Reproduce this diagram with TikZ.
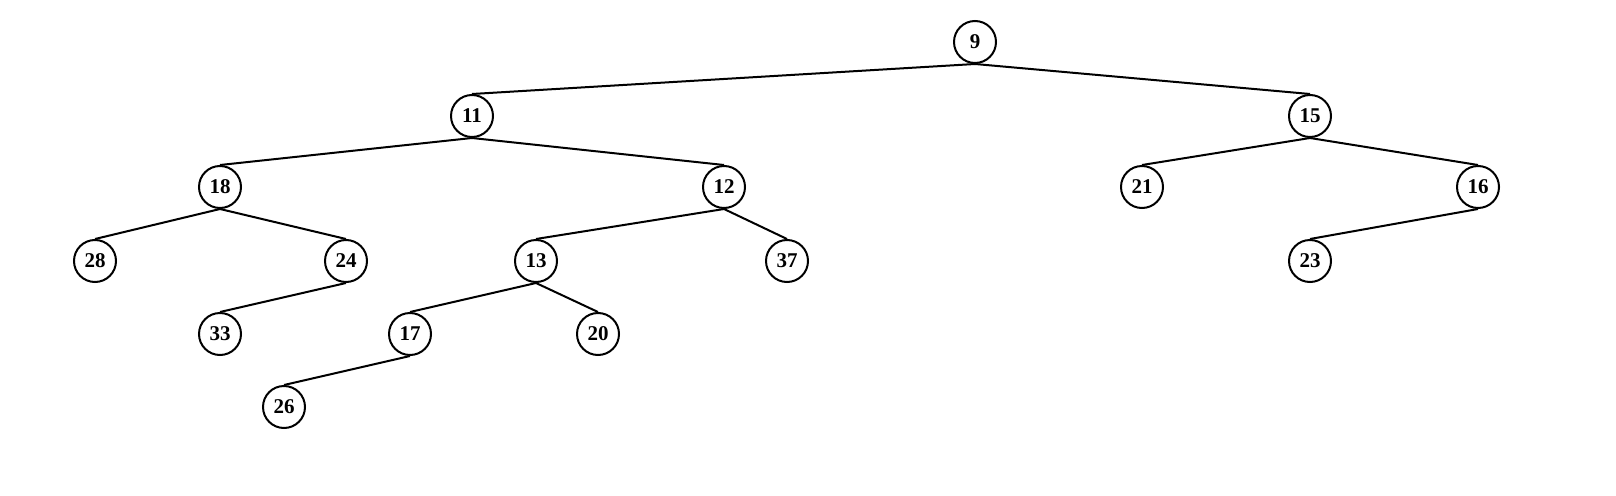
\documentclass[tikz,border=0pt]{standalone}
\usepackage{fontspec}
\setmainfont{Liberation Serif}
\begin{document}
\begin{tikzpicture}[x=1pt,y=-1pt,
  tn/.style={circle,draw,line width=2pt,minimum size=42pt,inner sep=0pt,font=\bfseries\fontsize{21}{23}\selectfont},
  ed/.style={line width=2pt}]
\useasboundingbox (0,0) rectangle (1616,495);
\node[tn] (n9) at (975,42) {9};
\node[tn] (n11) at (472,116) {11};
\node[tn] (n15) at (1310,116) {15};
\node[tn] (n18) at (220,187) {18};
\node[tn] (n12) at (724,187) {12};
\node[tn] (n21) at (1142,187) {21};
\node[tn] (n16) at (1478,187) {16};
\node[tn] (n28) at (95,261) {28};
\node[tn] (n24) at (346,261) {24};
\node[tn] (n13) at (536,261) {13};
\node[tn] (n37) at (787,261) {37};
\node[tn] (n23) at (1310,261) {23};
\node[tn] (n33) at (220,334) {33};
\node[tn] (n17) at (410,334) {17};
\node[tn] (n20) at (598,334) {20};
\node[tn] (n26) at (284,407) {26};
\foreach \a/\b in {n9/n11,n9/n15,n11/n18,n11/n12,n15/n21,n15/n16,n18/n28,n18/n24,n12/n13,n12/n37,n16/n23,n24/n33,n13/n17,n13/n20,n17/n26}
  \draw[ed] (\a.south) -- (\b.north);
\end{tikzpicture}
\end{document}
